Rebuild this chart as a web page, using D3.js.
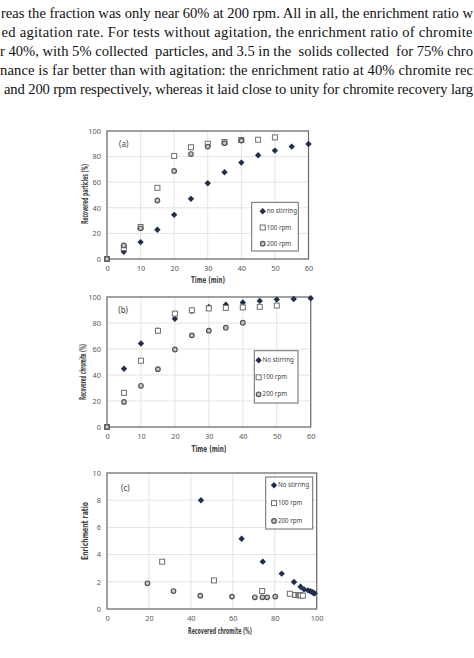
<!DOCTYPE html>
<html>
<head>
<meta charset="utf-8">
<title>Recovered particles, chromite and enrichment ratio</title>
<script src="https://d3js.org/d3.v7.min.js"></script>
<style>
    body { margin: 0; background: #fff; }
    svg { display: block; }
    .para { font-family: "Liberation Serif", "Times New Roman", serif; font-size: 14.6px; fill: #111; }
    .tick-label { font-family: "Noto Sans", "Open Sans", sans-serif; font-size: 7.4px; fill: #595959; }
    .axis-title { font-family: "Liberation Sans Narrow", "DejaVu Sans Condensed", "Noto Sans", sans-serif; font-size: 8px; font-weight: bold; fill: #404040; }
    .legend-text { font-family: "Noto Sans", "Open Sans", sans-serif; font-size: 6.2px; fill: #404040; }
    .panel-label { font-family: "Noto Sans", "Open Sans", sans-serif; font-size: 8px; fill: #404040; }
</style>
</head>
<body>
<div id="chart"></div>
<script>
// paragraph lines of the scanned page above the figure
const paraLines = [
    "reas the fraction was only near 60% at 200 rpm. All in all, the enrichment ratio w",
    "ed agitation rate. For tests without agitation, the enrichment ratio of chromite",
    "r 40%, with 5% collected  particles, and 3.5 in the  solids collected  for 75% chro",
    "nance is far better than with agitation: the enrichment ratio at 40% chromite rec",
    "and 200 rpm respectively, whereas it laid close to unity for chromite recovery larg"
];

// time (min)
const timeNoStir = [0, 5, 10, 15, 20, 25, 30, 35, 40, 45, 50, 55, 60];
const time100 = [0, 5, 10, 15, 20, 25, 30, 35, 40, 45, 50];
const time200 = [0, 5, 10, 15, 20, 25, 30, 35, 40];

// (a) recovered particles (%)
const partNoStir = [0, 5.7, 13.2, 22.9, 34.5, 47, 59.2, 67.8, 75.3, 81, 84.7, 87.8, 89.9];
const part100 = [0, 8.5, 25, 55.6, 80.5, 87.3, 90, 91.4, 93, 93.2, 95];
const part200 = [0, 10.6, 24, 45.7, 68.8, 82, 87.8, 90.5, 92.5];

// (b) recovered chromite (%)
const chromNoStir = [0, 44.8, 64.2, 74.3, 83.3, 89.2, 92.3, 94, 95.8, 97, 98, 98.5, 99];
const chrom100 = [0, 26.3, 51, 74, 87.2, 89.8, 91.2, 91.6, 92, 92.4, 93.4];
const chrom200 = [0, 19.3, 31.7, 44.5, 59.6, 70.5, 74.1, 76.4, 80.2];

// (c) enrichment ratio, t >= 5 min
const ratioNoStir = [8.0, 5.17, 3.48, 2.6, 1.99, 1.64, 1.44, 1.37, 1.3, 1.23, 1.18, 1.15];
const ratio100 = [3.48, 2.1, 1.32, 1.12, 1.03, 1.02, 1.02, 1.02, 1.0, 0.98];
const ratio200 = [1.89, 1.32, 0.98, 0.91, 0.86, 0.86, 0.86, 0.91];

const timeTicks = [0, 10, 20, 30, 40, 50, 60];
const pctTicks = [0, 20, 40, 60, 80, 100];
const ratioTicks = [0, 2, 4, 6, 8, 10];

const W = 474, H = 658;
const svg = d3.select("#chart").append("svg")
    .attr("width", W)
    .attr("height", H);

svg.append("rect").attr("width", W).attr("height", H).attr("fill", "#fff");

// text block
const paraX = [[1, 473], [1.5, 472.5], [0, 473], [0, 473], [4, 473]];
svg.selectAll(".para")
    .data(paraLines)
    .enter().append("text")
    .attr("class", "para")
    .attr("x", (d, i) => paraX[i][0])
    .attr("y", (d, i) => 18 + i * 19)
    .attr("textLength", (d, i) => paraX[i][1] - paraX[i][0])
    .attr("lengthAdjust", "spacing")
    .style("white-space", "pre")
    .text(d => d);

function diamondPath(s) {
    return "M0," + (-s) + "L" + s + ",0L0," + s + "L" + (-s) + ",0Z";
}

function drawMarker(g, type, x, y) {
    if (type === "diamond") {
        g.append("path")
            .attr("transform", "translate(" + x + "," + y + ")")
            .attr("d", diamondPath(3.2))
            .attr("fill", "#1f2f4d");
    } else if (type === "square") {
        g.append("rect")
            .attr("x", x - 2.5).attr("y", y - 2.5)
            .attr("width", 5).attr("height", 5)
            .attr("fill", "#fff")
            .attr("stroke", "#6f6f6f")
            .attr("stroke-width", 1);
    } else {
        g.append("circle")
            .attr("cx", x).attr("cy", y).attr("r", 2.3)
            .attr("fill", "#c8c8c8")
            .attr("stroke", "#555")
            .attr("stroke-width", 1.2);
    }
}

function drawPanel(cfg) {
    const x = d3.scaleLinear().domain(cfg.xDomain).range([cfg.left, cfg.right]);
    const y = d3.scaleLinear().domain(cfg.yDomain).range([cfg.bottom, cfg.top]);
    const g = svg.append("g");

    // gridlines
    g.selectAll(".vgrid").data(cfg.xTicks).enter().append("line")
        .attr("x1", d => x(d)).attr("x2", d => x(d))
        .attr("y1", cfg.top).attr("y2", cfg.bottom)
        .attr("stroke", "#dcdcdc").attr("stroke-width", 0.8);
    g.selectAll(".hgrid").data(cfg.yTicks).enter().append("line")
        .attr("x1", cfg.left).attr("x2", cfg.right)
        .attr("y1", d => y(d)).attr("y2", d => y(d))
        .attr("stroke", "#dcdcdc").attr("stroke-width", 0.8);

    // frame
    g.append("rect")
        .attr("x", cfg.left).attr("y", cfg.top)
        .attr("width", cfg.right - cfg.left).attr("height", cfg.bottom - cfg.top)
        .attr("fill", "none").attr("stroke", "#6a6a6a").attr("stroke-width", 1.2);

    // axes (labels only, no tick marks)
    const xAxis = g.append("g")
        .attr("transform", "translate(0," + (cfg.bottom + 7) + ")")
        .call(d3.axisBottom(x).tickValues(cfg.xTicks).tickSize(0).tickPadding(0));
    xAxis.select(".domain").remove();
    xAxis.selectAll("text").attr("class", "tick-label").attr("dy", "0.71em").attr("fill", null);

    const yAxis = g.append("g")
        .attr("transform", "translate(" + (cfg.left - 6) + ",0)")
        .call(d3.axisLeft(y).tickValues(cfg.yTicks).tickSize(0).tickPadding(0));
    yAxis.select(".domain").remove();
    yAxis.selectAll("text").attr("class", "tick-label").attr("fill", null);

    // titles
    g.append("text").attr("class", "axis-title")
        .attr("x", cfg.xTitle.cx).attr("y", cfg.xTitle.y)
        .attr("text-anchor", "middle")
        .attr("textLength", cfg.xTitle.len).attr("lengthAdjust", "spacingAndGlyphs")
        .text(cfg.xTitle.text);
    g.append("text").attr("class", "axis-title")
        .attr("transform", "translate(" + cfg.yTitle.x + "," + cfg.yTitle.cy + ") rotate(-90)")
        .attr("text-anchor", "middle")
        .attr("textLength", cfg.yTitle.len).attr("lengthAdjust", "spacingAndGlyphs")
        .text(cfg.yTitle.text);

    g.append("text").attr("class", "panel-label")
        .attr("x", cfg.labelX).attr("y", cfg.labelY).text(cfg.label);

    // points
    cfg.series.forEach(s => {
        s.xs.forEach((xv, i) => drawMarker(g, s.type, x(xv), y(s.ys[i])));
    });

    // legend
    const lg = cfg.legend;
    g.append("rect")
        .attr("x", lg.x).attr("y", lg.y).attr("width", lg.w).attr("height", lg.h)
        .attr("fill", "#fff").attr("stroke", "#6a6a6a").attr("stroke-width", 1);
    cfg.series.forEach((s, i) => {
        const ly = lg.y + lg.first + i * lg.step;
        drawMarker(g, s.type, lg.x + lg.mx, ly);
        g.append("text").attr("class", "legend-text")
            .attr("x", lg.x + lg.mx + 4).attr("y", ly).attr("dy", "0.35em")
            .text(s.name);
    });
}

drawPanel({
    left: 107, right: 308.5, top: 131, bottom: 259,
    xDomain: [0, 60], yDomain: [0, 100], xTicks: timeTicks, yTicks: pctTicks,
    xTitle: { text: "Time (min)", cx: 208, y: 283, len: 34 },
    yTitle: { text: "Recovered particles (%)", x: 88, cy: 194, len: 60 },
    label: "(a)", labelX: 119, labelY: 146.5,
    series: [
        { name: "no stirring", type: "diamond", xs: timeNoStir, ys: partNoStir },
        { name: "100 rpm", type: "square", xs: time100, ys: part100 },
        { name: "200 rpm", type: "circle", xs: time200, ys: part200 }
    ],
    legend: { x: 251.7, y: 202.3, w: 46.6, h: 48.7, first: 9, step: 16.2, mx: 11 }
});

drawPanel({
    left: 107, right: 310.7, top: 297, bottom: 427,
    xDomain: [0, 60], yDomain: [0, 100], xTicks: timeTicks, yTicks: pctTicks,
    xTitle: { text: "Time (min)", cx: 209, y: 452, len: 35 },
    yTitle: { text: "Recovered chromite (%)", x: 86, cy: 372, len: 56 },
    label: "(b)", labelX: 118.3, labelY: 313,
    series: [
        { name: "No stirring", type: "diamond", xs: timeNoStir, ys: chromNoStir },
        { name: "100 rpm", type: "square", xs: time100, ys: chrom100 },
        { name: "200 rpm", type: "circle", xs: time200, ys: chrom200 }
    ],
    legend: { x: 254.3, y: 350.7, w: 43.7, h: 52.3, first: 9.6, step: 17, mx: 4.3 }
});

drawPanel({
    left: 107, right: 316.7, top: 473, bottom: 609,
    xDomain: [0, 100], yDomain: [0, 10], xTicks: [0, 20, 40, 60, 80, 100], yTicks: ratioTicks,
    xTitle: { text: "Recovered chromite (%)", cx: 220, y: 633.5, len: 64 },
    yTitle: { text: "Enrichment ratio", x: 88, cy: 531, len: 58 },
    label: "(c)", labelX: 121, labelY: 490.5,
    series: [
        { name: "No stirring", type: "diamond", xs: chromNoStir.slice(1), ys: ratioNoStir },
        { name: "100 rpm", type: "square", xs: chrom100.slice(1), ys: ratio100 },
        { name: "200 rpm", type: "circle", xs: chrom200.slice(1), ys: ratio200 }
    ],
    legend: { x: 265.7, y: 477, w: 47, h: 52, first: 8.3, step: 17.8, mx: 8.3 }
});
</script>
</body>
</html>
